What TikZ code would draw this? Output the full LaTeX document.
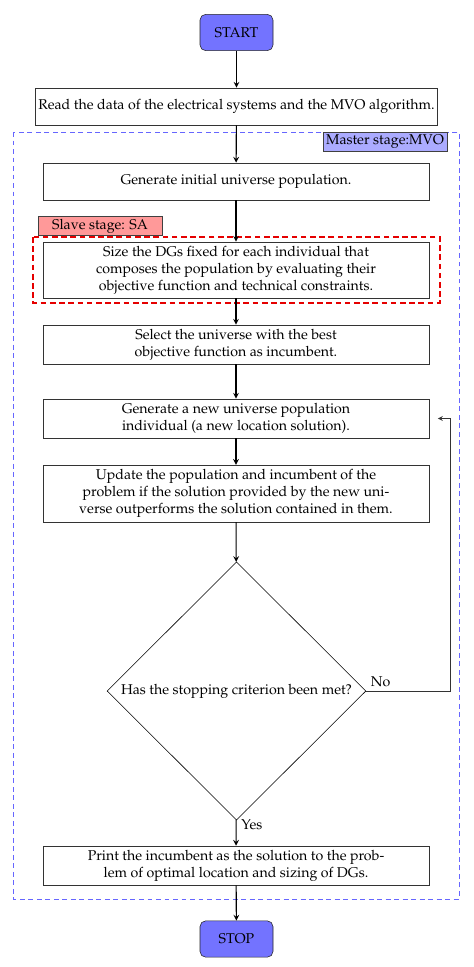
\documentclass[tikz,border=0pt]{standalone}
\usepackage[T1]{fontenc}
\usepackage{mathpazo}
\usepackage{xcolor}
\usetikzlibrary{arrows,shapes,positioning}

\begin{document}
\begin{tikzpicture}[x=0.0248cm,y=-0.0248cm,
	procbox/.style={draw=black!80,rectangle,minimum width=9.57cm,align=center,inner sep=2pt},
	termbox/.style={draw=black!85,rounded corners=4pt,fill=blue!55,minimum width=1.81cm,minimum height=0.9cm},
	tagbox/.style={draw=black!75,minimum width=3.07cm,minimum height=0.48cm,inner sep=1pt}]
		\useasboundingbox (0,0) rectangle (474,967);
		
		\node[termbox] (start) at (236.5,32.5) {START};
		\node[procbox,minimum width=9.9cm,minimum height=0.92cm] (read) at (236.5,106.5)
			{Read the data of the electrical systems and the MVO algorithm.};
		
		% master stage
		\draw[blue!60,semithick,dash pattern=on 3.5pt off 2.5pt] (13,132) rectangle (459,899);
		\node[tagbox,fill=blue!33] (mastertag) at (385,141.5) {Master stage:MVO};
		
		\node[procbox,minimum height=0.92cm] (init) at (236,181.5)
			{Generate initial universe population.};
		
		% slave stage
		\node[tagbox,fill=red!40] (slavetag) at (100,226) {Slave stage: SA};
		\draw[red!90!black,thick,dash pattern=on 4pt off 2.5pt] (33,237) rectangle (440,303);
		\node[procbox,minimum height=1.39cm] (size) at (236,270)
			{Size the DGs fixed for each individual that\\
			composes the population by evaluating their\\
			objective function and technical constraints.};
		
		\node[procbox,minimum height=0.97cm] (select) at (236,344.5)
			{Select the universe with the best\\ objective function as incumbent.};
		\node[procbox,minimum height=0.97cm] (newuni) at (236,418.5)
			{Generate a new universe population\\ individual (a new location solution).};
		\node[procbox,minimum height=1.41cm] (update) at (236,493.5)
			{Update the population and incumbent of the\\
			problem if the solution provided by the new uni-\\
			verse outperforms the solution contained in them.};
		\node[diamond,draw,minimum width=6.42cm,minimum height=6.4cm,inner sep=0pt] (check) at (236.5,691)
			{Has the stopping criterion been met?};
		\node[procbox,minimum height=0.97cm] (print) at (236,865.5)
			{Print the incumbent as the solution to the prob-\\ lem of optimal location and sizing of DGs.};
		\node[termbox] (stop) at (236.5,939) {STOP};
		
		\coordinate (loop) at (450,418.5);
		\node[above right,inner sep=3pt] (nolabel) at (check.east) {No};
		%
		\path[->,thick,>=stealth]
		(start) edge (read)
		(read) edge (init)
		(init) edge (size)
		(size) edge (select)
		(select) edge (newuni)
		(newuni) edge (update)
		(update) edge (check)
		(check) edge node[right,pos=0.2]{Yes} (print)
		(print) edge (stop);
		
		\draw[->,black!80,semithick,>=stealth,shorten >=6pt] (check.east) -| (loop) -- (newuni.east);
		
	\end{tikzpicture}
\end{document}
